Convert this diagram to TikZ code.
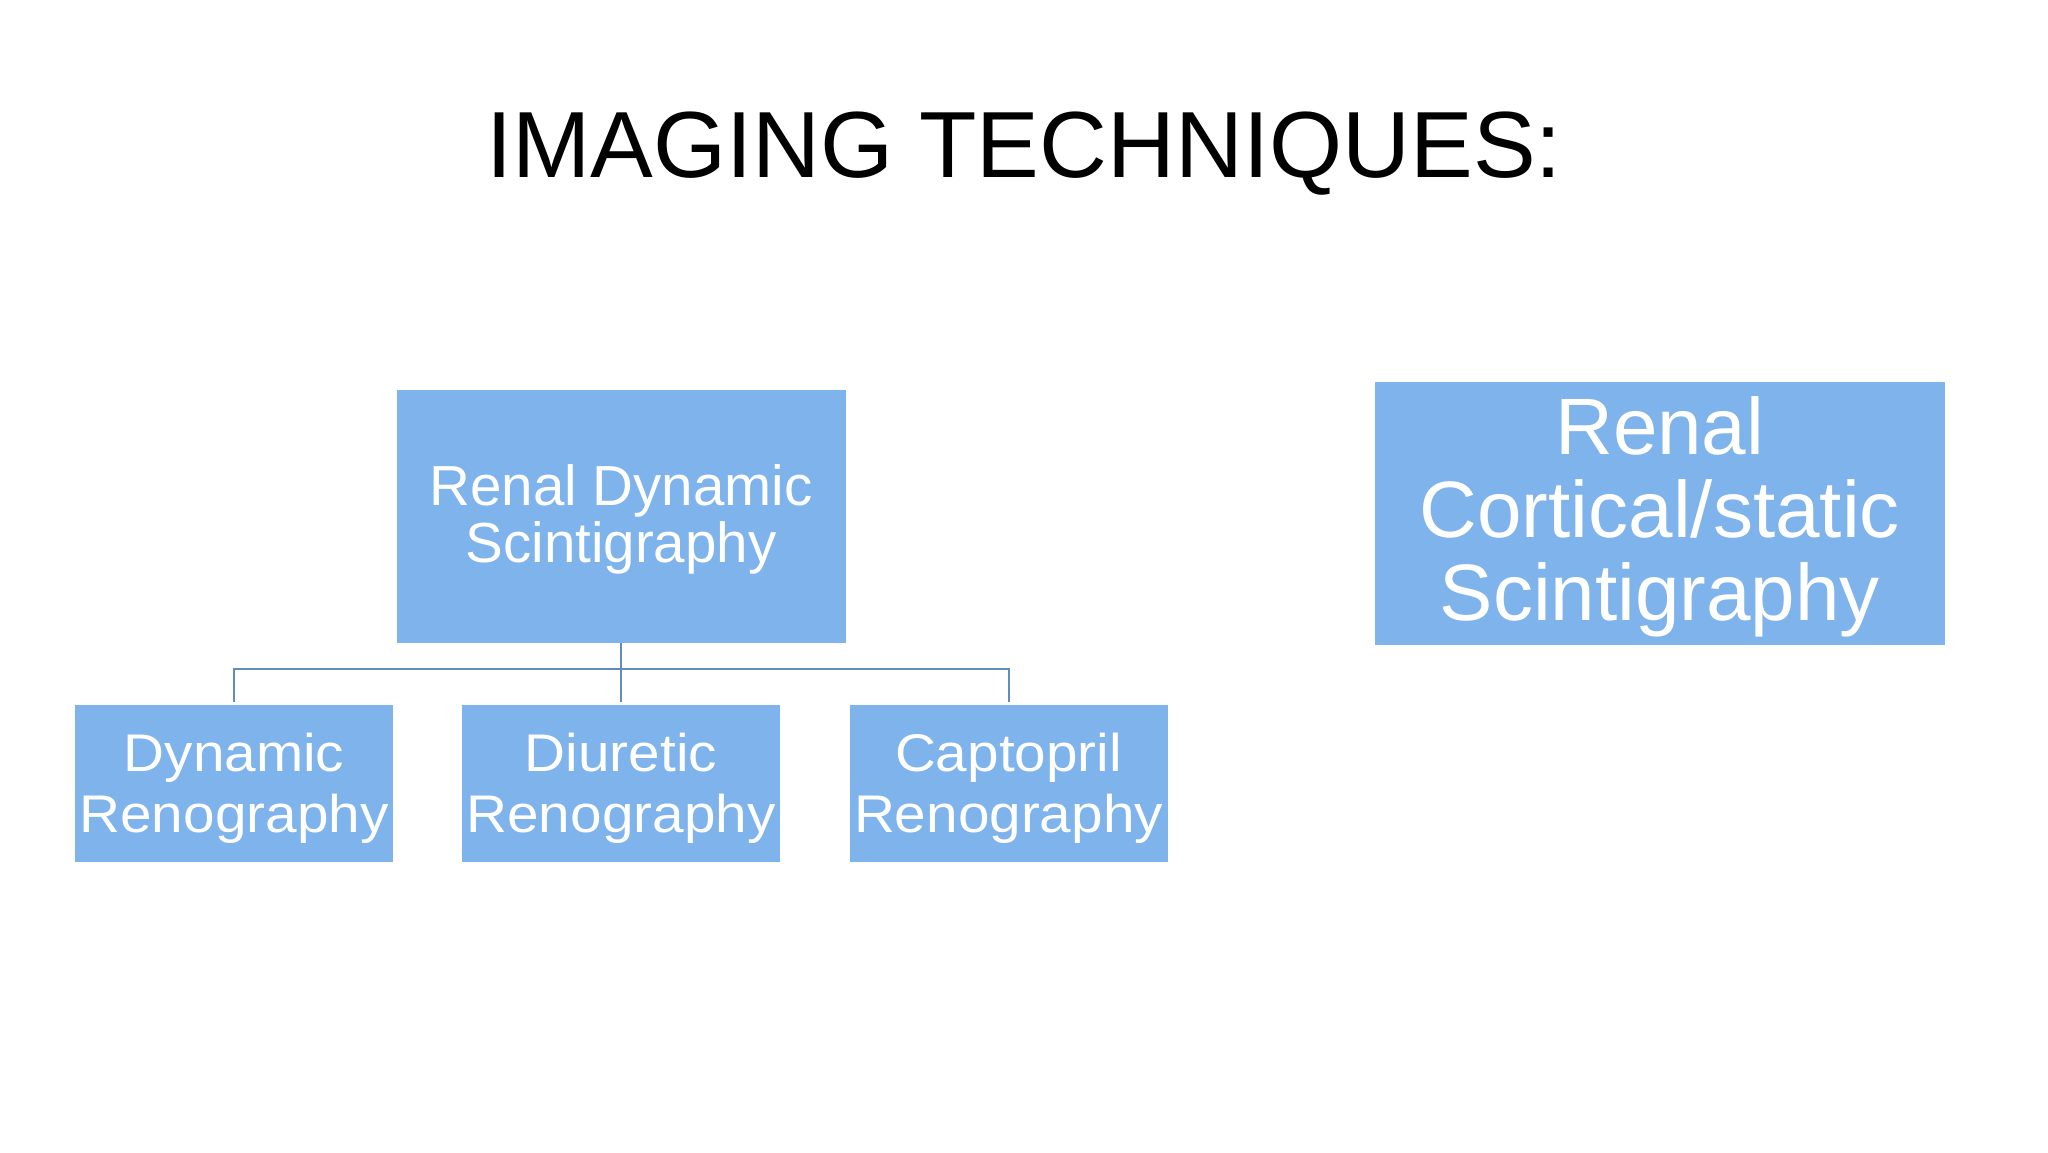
\documentclass[tikz,border=0pt]{standalone}
\usepackage{fontspec}
\setmainfont{Liberation Sans}
\newfontfamily\childfont[FakeStretch=1.07]{Liberation Sans}
\definecolor{boxblue}{RGB}{126,179,236}
\definecolor{linkblue}{RGB}{96,140,190}
\begin{document}
\begin{tikzpicture}[x=1pt,y=-1pt,
  box/.style={fill=boxblue, draw=none, inner sep=0pt},
  childbox/.style={box, minimum width=318pt, minimum height=157pt},
  lbl/.style={inner sep=0pt, align=center, text=white},
  childlbl/.style={lbl, font=\childfont\fontsize{53}{61}\selectfont},
  link/.style={draw=linkblue, line width=2pt}]
\fill[white] (0,0) rectangle (2048,1152);
\useasboundingbox (0,0) rectangle (2048,1152);
\node[anchor=base, inner sep=0pt, font=\fontsize{94}{100}\selectfont] (title) at (1024,177) {IMAGING TECHNIQUES:};
% boxes
\node[box, minimum width=449pt, minimum height=253pt] (root) at (621,516.5) {};
\node[childbox] (c1) at (234,783.5) {};
\node[childbox] (c2) at (621,783.5) {};
\node[childbox] (c3) at (1008.5,783.5) {};
\node[box, minimum width=569.5pt, minimum height=263.3pt] (static) at (1659.75,513.4) {};
% labels
\node[lbl, font=\fontsize{56.5}{57}\selectfont] (rootlbl) at ([yshift=-2.5pt]root.center) {Renal Dynamic\\Scintigraphy};
\node[childlbl] (c1lbl) at ([yshift=-4.5pt]c1.center) {Dynamic\\Renography};
\node[childlbl] (c2lbl) at ([yshift=-4.5pt]c2.center) {Diuretic\\Renography};
\node[childlbl] (c3lbl) at ([yshift=-4.5pt]c3.center) {Captopril\\Renography};
\node[lbl, font=\fontsize{80}{83}\selectfont] (staticlbl) at ([yshift=-3pt]static.center) {Renal\\Cortical/static\\Scintigraphy};
% connectors
\coordinate (j) at (621,669);
\draw[link] (root.south) -- (j);
\draw[link,shorten >=3pt] (j) -| (c1.north);
\draw[link,shorten >=3pt] (j) -- (c2.north);
\draw[link,shorten >=3pt] (j) -| (c3.north);
\end{tikzpicture}
\end{document}
